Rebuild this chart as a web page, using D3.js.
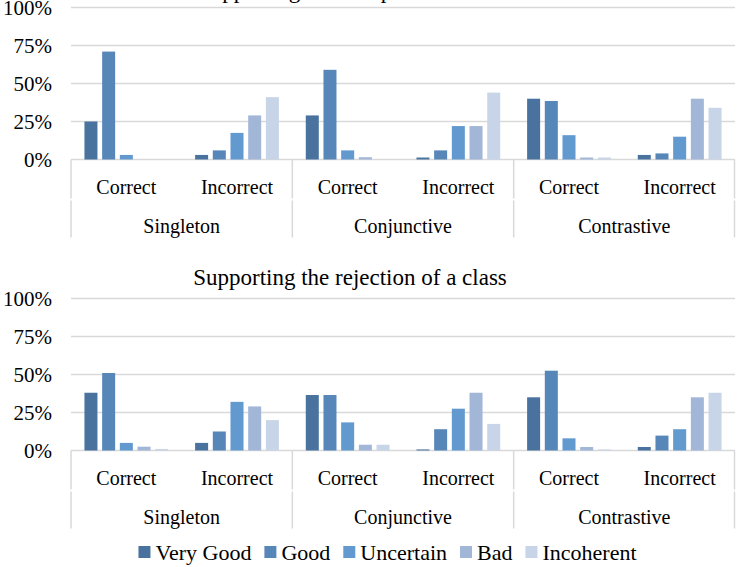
<!DOCTYPE html>
<meta charset="utf-8">
<style>
  html, body { margin: 0; padding: 0; background: #fff; }
  svg { display: block; }
  .grid line { stroke: #d9d9d9; stroke-width: 1.5; }
  .cat line { stroke: #d9d9d9; stroke-width: 1.5; }
</style>
<body>
<script src="https://cdnjs.cloudflare.com/ajax/libs/d3/7.8.5/d3.min.js"></script>
<script>
var groups = ["Singleton", "Conjunctive", "Contrastive"];
var subs = ["Correct", "Incorrect"];
var series = ["Very Good", "Good", "Uncertain", "Bad", "Incoherent"];
var colors = ["#49739e", "#5787b8", "#6299cf", "#a2b6d8", "#c8d4e7"];
var yTicks = [0, 25, 50, 75, 100];

// percentages per group/sub, in series order
var acceptance = [
  [25, 71, 3, 0, 0],     // Singleton Correct
  [3, 6, 17.5, 29, 41],  // Singleton Incorrect
  [29, 59, 6, 1.5, 0],   // Conjunctive Correct
  [1.3, 6, 22, 22, 44],  // Conjunctive Incorrect
  [40, 38.5, 16, 1.3, 1.3], // Contrastive Correct
  [3, 4, 15, 40, 34]     // Contrastive Incorrect
];
var rejection = [
  [38, 51, 5, 2.5, 1],
  [5, 12.5, 32, 29, 20],
  [36.5, 36.5, 18.5, 3.8, 3.8],
  [0.7, 14, 27.5, 38, 17.5],
  [35, 52.5, 8, 2.3, 0.7],
  [2.3, 9.8, 14, 35, 38]
];

var W = 737, H = 567;
var left = 71, right = 735;
var svg = d3.select("body").append("svg").attr("width", W).attr("height", H)
  .attr("font-family", "'Liberation Serif', 'Times New Roman', Times, 'DejaVu Serif', serif");

var x0 = d3.scaleBand().domain(groups).range([left, right]);
var x1 = d3.scaleBand().domain(subs).range([0, x0.bandwidth()]);
var x2 = d3.scaleBand().domain(series).range([0, x1.bandwidth()]).paddingInner(0.265).paddingOuter(0.76);
var color = d3.scaleOrdinal().domain(series).range(colors);

function panel(data, top, title, titleX, titleY) {
  var y = d3.scaleLinear().domain([0, 100]).range([top + 152, top]);
  var g = svg.append("g");

  // gridlines
  g.append("g").attr("class", "grid")
    .selectAll("line").data(yTicks).enter().append("line")
    .attr("x1", left).attr("x2", right)
    .attr("y1", function(d) { return y(d); }).attr("y2", function(d) { return y(d); });

  // y tick labels
  g.append("g").selectAll("text").data(yTicks).enter().append("text")
    .attr("x", 52).attr("y", function(d) { return y(d); })
    .attr("dy", "0.35em").attr("text-anchor", "end")
    .style("font-size", "21px")
    .text(function(d) { return d + "%"; });

  // bars
  var cells = [];
  groups.forEach(function(gr, gi) {
    subs.forEach(function(s, si) {
      series.forEach(function(se, k) {
        cells.push({ g: gr, s: s, k: se, v: data[gi * 2 + si][k] });
      });
    });
  });
  g.append("g").selectAll("rect").data(cells).enter().append("rect")
    .attr("x", function(d) { return x0(d.g) + x1(d.s) + x2(d.k); })
    .attr("width", x2.bandwidth())
    .attr("y", function(d) { return y(d.v); })
    .attr("height", function(d) { return y(0) - y(d.v); })
    .attr("fill", function(d) { return color(d.k); });

  // category axis: group boundaries
  var base = y(0);
  var bounds = groups.map(function(d) { return x0(d); }).concat([right - 0.5]);
  var cat = g.append("g").attr("class", "cat");
  cat.selectAll("line.a").data(bounds).enter().append("line").attr("class", "a")
    .attr("x1", function(d) { return d; }).attr("x2", function(d) { return d; })
    .attr("y1", base).attr("y2", base + 39);
  cat.selectAll("line.b").data(bounds).enter().append("line").attr("class", "b")
    .attr("x1", function(d) { return d; }).attr("x2", function(d) { return d; })
    .attr("y1", base + 41).attr("y2", base + 78);

  var subCells = [];
  groups.forEach(function(gr) { subs.forEach(function(s) { subCells.push({ g: gr, s: s }); }); });
  g.append("g").selectAll("text").data(subCells).enter().append("text")
    .attr("x", function(d) { return x0(d.g) + x1(d.s) + x1.bandwidth() / 2; })
    .attr("y", base + 27)
    .attr("dy", "0.35em").attr("text-anchor", "middle")
    .style("font-size", "20px")
    .text(function(d) { return d.s; });

  g.append("g").selectAll("text").data(groups).enter().append("text")
    .attr("x", function(d) { return x0(d) + x0.bandwidth() / 2; })
    .attr("y", base + 66)
    .attr("dy", "0.35em").attr("text-anchor", "middle")
    .style("font-size", "20px")
    .text(function(d) { return d; });

  svg.append("text")
    .attr("x", titleX).attr("y", titleY).attr("text-anchor", "middle")
    .style("font-size", "23px")
    .text(title);
}

panel(acceptance, 7.5, "Supporting the acceptance of a class", 365, -2);
panel(rejection, 298.5, "Supporting the rejection of a class", 350, 285);

// legend, laid out from measured text widths
var lg = svg.append("g").attr("transform", "translate(0,552)");
var items = lg.selectAll("g").data(series).enter().append("g");
items.append("rect").attr("x", 0).attr("y", -6).attr("width", 12).attr("height", 12)
  .attr("fill", function(d) { return color(d); });
items.append("text").attr("x", 17).attr("y", 0).attr("dy", "0.35em")
  .style("font-size", "22px")
  .text(function(d) { return d; });
var gap = 13, pos = 0, offs = [];
items.each(function() {
  offs.push(pos);
  pos += 17 + d3.select(this).select("text").node().getComputedTextLength() + gap;
});
var startX = 135 + (505 - (pos - gap)) / 2;
items.attr("transform", function(d, i) { return "translate(" + (startX + offs[i]) + ",0)"; });
</script>
</body>
